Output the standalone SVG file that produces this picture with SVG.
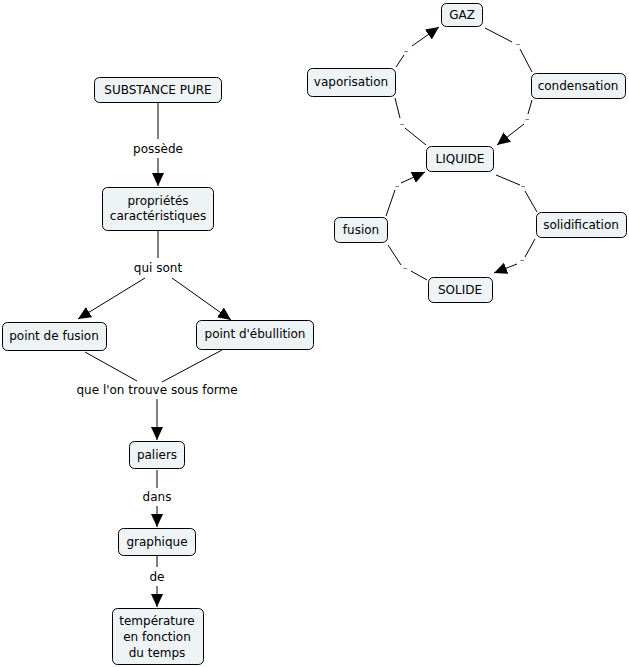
<svg xmlns="http://www.w3.org/2000/svg" width="629" height="667" viewBox="0 0 629 667">
<defs>
<style>
.n rect{fill:#eef3f6;stroke:#000;stroke-width:1}
text{font-family:"DejaVu Sans",Verdana,sans-serif;font-size:12px;fill:#000;text-anchor:middle}
.c line{stroke:#000;stroke-width:1}
.d{fill:#777;font-size:13px}
</style>
<marker id="ah" markerUnits="userSpaceOnUse" markerWidth="14" markerHeight="12" refX="13" refY="6" orient="auto">
<path d="M0,0 L13,6 L0,12 Z" fill="#000"/>
</marker>
</defs>
<rect width="629" height="667" fill="#fff"/>
<g id="connectors" class="c">
<line x1="158" y1="103" x2="158" y2="139"/>
<text x="158" y="153">possède</text>
<line x1="158" y1="158" x2="158" y2="186" marker-end="url(#ah)"/>
<line x1="158" y1="231" x2="158" y2="258"/>
<text x="158" y="272">qui sont</text>
<line x1="145" y1="278" x2="78" y2="319" marker-end="url(#ah)"/>
<line x1="172" y1="278" x2="231" y2="320" marker-end="url(#ah)"/>
<line x1="85" y1="352" x2="137" y2="381"/>
<line x1="222" y1="350" x2="162" y2="382"/>
<text x="157" y="394">que l'on trouve sous forme</text>
<line x1="157" y1="399" x2="157" y2="440" marker-end="url(#ah)"/>
<line x1="157" y1="470" x2="157" y2="488"/>
<text x="157" y="501">dans</text>
<line x1="157" y1="506" x2="157" y2="527" marker-end="url(#ah)"/>
<line x1="157" y1="556" x2="157" y2="567"/>
<text x="157" y="581">de</text>
<line x1="157" y1="586" x2="157" y2="607" marker-end="url(#ah)"/>
<!-- cycle -->
<line x1="396" y1="67" x2="404" y2="55"/>
<text class="d" x="406" y="55">-</text>
<line x1="412" y1="46" x2="439" y2="27" marker-end="url(#ah)"/>
<line x1="485" y1="28" x2="512" y2="42"/>
<text class="d" x="518" y="48">-</text>
<line x1="520" y1="49" x2="532" y2="72"/>
<line x1="532" y1="100" x2="528" y2="114"/>
<text class="d" x="527" y="123">-</text>
<line x1="524" y1="124" x2="497" y2="145" marker-end="url(#ah)"/>
<line x1="426" y1="145" x2="405" y2="128"/>
<text class="d" x="402" y="128">-</text>
<line x1="400" y1="118" x2="395" y2="98"/>
<line x1="496" y1="175" x2="520" y2="185"/>
<text class="d" x="523" y="190">-</text>
<line x1="525" y1="191" x2="537" y2="212"/>
<line x1="535" y1="239" x2="525" y2="257"/>
<text class="d" x="522" y="264">-</text>
<line x1="517" y1="264" x2="494" y2="273" marker-end="url(#ah)"/>
<line x1="427" y1="280" x2="411" y2="271"/>
<text class="d" x="405" y="272">-</text>
<line x1="401" y1="265" x2="388" y2="245"/>
<line x1="386" y1="216" x2="395" y2="190"/>
<text class="d" x="397" y="190">-</text>
<line x1="401" y1="183" x2="425" y2="172" marker-end="url(#ah)"/>
</g>
<g id="gaz" class="n"><rect x="441.5" y="3.5" width="41" height="23" rx="5"/><text x="462" y="19">GAZ</text></g>
<g id="vaporisation" class="n"><rect x="307.5" y="68.5" width="88" height="28" rx="5"/><text x="351" y="86">vaporisation</text></g>
<g id="condensation" class="n"><rect x="531.5" y="73.5" width="94" height="25" rx="5"/><text x="578" y="90">condensation</text></g>
<g id="liquide" class="n"><rect x="426.5" y="146.5" width="67" height="25" rx="5"/><text x="460" y="163">LIQUIDE</text></g>
<g id="fusion" class="n"><rect x="334.5" y="217.5" width="53" height="25" rx="5"/><text x="361" y="234">fusion</text></g>
<g id="solidification" class="n"><rect x="536.5" y="212.5" width="90" height="25" rx="5"/><text x="581" y="229">solidification</text></g>
<g id="solide" class="n"><rect x="428.5" y="277.5" width="64" height="25" rx="5"/><text x="460" y="294">SOLIDE</text></g>
<g id="substance" class="n"><rect x="94.5" y="77.5" width="127" height="25" rx="5"/><text x="158" y="94">SUBSTANCE PURE</text></g>
<g id="proprietes" class="n"><rect x="102.5" y="187.5" width="111" height="43" rx="5"/><text x="158" y="205">propriétés</text><text x="158" y="220">caractéristiques</text></g>
<g id="pfusion" class="n"><rect x="2.5" y="322.5" width="104" height="28" rx="5"/><text x="54" y="340">point de fusion</text></g>
<g id="pebullition" class="n"><rect x="196.5" y="320.5" width="117" height="29" rx="5"/><text x="255" y="338">point d'ébullition</text></g>
<g id="paliers" class="n"><rect x="129.5" y="441.5" width="55" height="27" rx="5"/><text x="157" y="459">paliers</text></g>
<g id="graphique" class="n"><rect x="118.5" y="528.5" width="77" height="27" rx="5"/><text x="157" y="546">graphique</text></g>
<g id="temperature" class="n"><rect x="112.5" y="608.5" width="91" height="56" rx="5"/><text x="157" y="625">température</text><text x="157" y="641">en fonction</text><text x="157" y="657">du temps</text></g>
</svg>
